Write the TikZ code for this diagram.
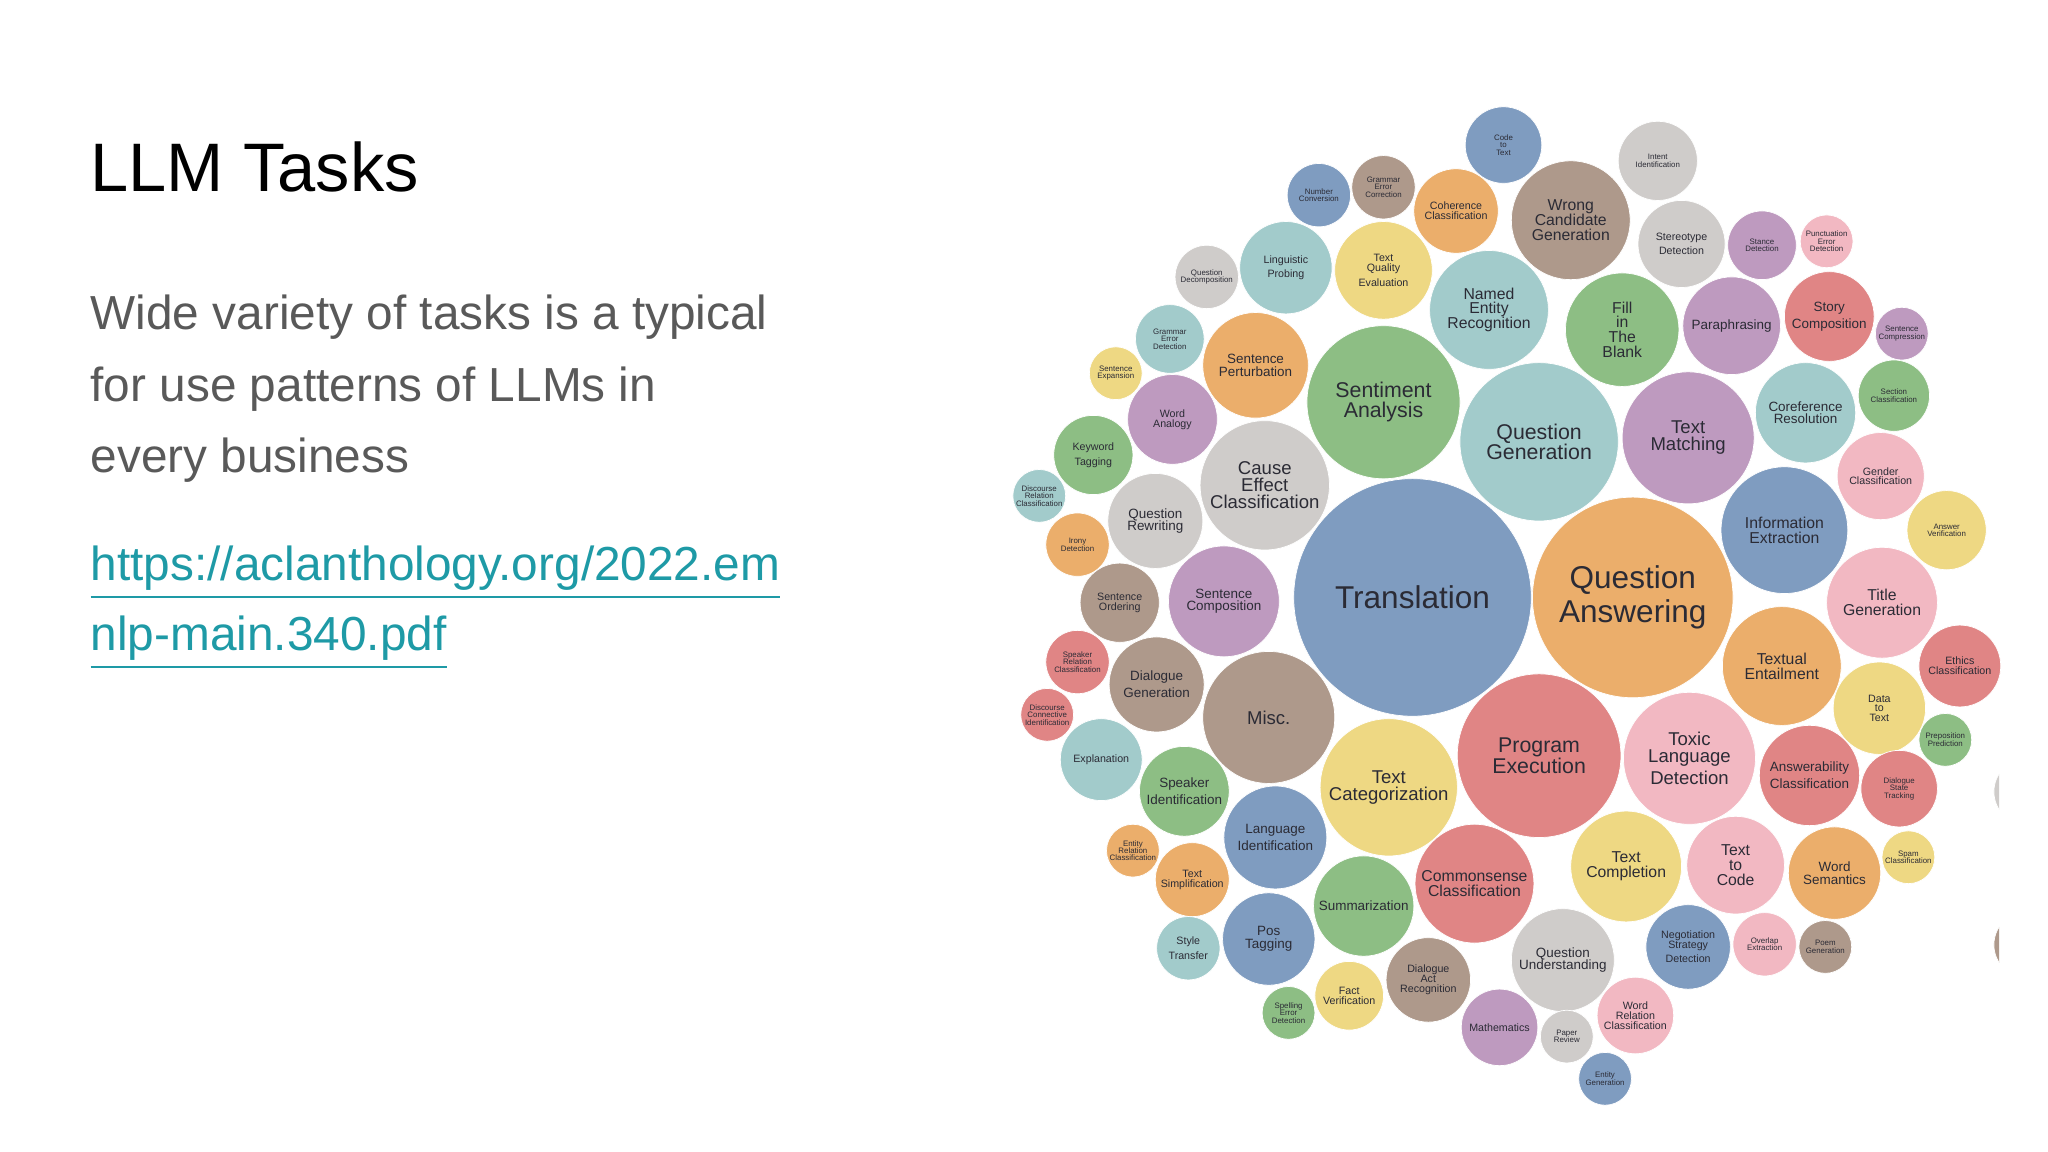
\documentclass[tikz,border=0pt]{standalone}
\usepackage{fontspec}
\setmainfont{Liberation Sans}
\definecolor{cb}{HTML}{7F9CC0}
\definecolor{co}{HTML}{EBAE6B}
\definecolor{cg}{HTML}{8DBE84}
\definecolor{ct}{HTML}{A2CBCB}
\definecolor{cr}{HTML}{E08585}
\definecolor{cp}{HTML}{F2B8C2}
\definecolor{cu}{HTML}{BE9ABF}
\definecolor{cn}{HTML}{AE998B}
\definecolor{cy}{HTML}{EED883}
\definecolor{cz}{HTML}{CFCCCA}
\definecolor{txt}{HTML}{2B2B35}
\definecolor{body}{HTML}{595959}
\definecolor{lnk}{HTML}{1E9AA6}
\newcommand\FzA{\fontsize{6.8}{6.2}\selectfont}
\newcommand\FzB{\fontsize{5.9}{5.6}\selectfont}
\newcommand\FzC{\fontsize{4.6}{4.4}\selectfont}
\newcommand\FzD{\fontsize{4.0}{3.7}\selectfont}
\newcommand\FzE{\fontsize{3.4}{3.2}\selectfont}
\newcommand\FzF{\fontsize{2.9}{2.7}\selectfont}
\newcommand\FzG{\fontsize{2.3}{2.1}\selectfont}
\newcommand\FzH{\fontsize{1.7}{1.6}\selectfont}
\newcommand\bub[7]{\node[bub,fill=#5,minimum size=0.02cm*#4,font=#6] (#1) at (0.01*#2,-0.01*#3) {#7};}
\tikzset{bub/.style={circle,draw=white,line width=0.15pt,inner sep=0pt,align=center,text=txt}}
\begin{document}
\begin{tikzpicture}
\useasboundingbox[fill=white] (0,0) rectangle (15.52,-8.73);
\node[anchor=base west,inner sep=0,font=\fontsize{14.8}{16}\selectfont] (title) at (0.68,-1.45) {LLM Tasks};
\node[anchor=base west,inner sep=0,text=body,font=\fontsize{10.3}{12}\selectfont] (l1) at (0.68,-2.50) {Wide variety of tasks is a typical};
\node[anchor=base west,inner sep=0,text=body,font=\fontsize{10.3}{12}\selectfont] (l2) at (0.68,-3.04) {for use patterns of LLMs in};
\node[anchor=base west,inner sep=0,text=body,font=\fontsize{10.3}{12}\selectfont] (l3) at (0.68,-3.58) {every business};
\node[anchor=base west,inner sep=0,text=lnk,font=\fontsize{10.3}{12}\selectfont] (k1) at (0.68,-4.40) {\underline{https://aclanthology.org/2022.em}};
\node[anchor=base west,inner sep=0,text=lnk,font=\fontsize{10.3}{12}\selectfont] (k2) at (0.68,-4.93) {\underline{nlp-main.340.pdf}};
\bub{tr}{1071}{453}{90}{cb}{\FzA}{Translation}
\bub{qa}{1238}{453}{76}{co}{\FzA}{Question\\Answering}
\bub{sa}{1049}{305}{58}{cg}{\FzC}{Sentiment\\Analysis}
\bub{qg}{1167}{335}{60}{ct}{\FzC}{Question\\Generation}
\bub{tm}{1280}{332}{50}{cu}{\FzD}{Text\\Matching}
\bub{pe}{1167}{573}{62}{cr}{\FzC}{Program\\Execution}
\bub{tl}{1281}{575}{50}{cp}{\FzD}{Toxic\\Language\\Detection}
\bub{tc}{1053}{597}{52}{cy}{\FzD}{Text\\Categorization}
\bub{mi}{962}{544}{50}{cn}{\FzD}{Misc.}
\bub{ce}{959}{368}{49}{cz}{\FzD}{Cause\\Effect\\Classification}
\bub{cc}{1118}{670}{45}{cr}{\FzE}{Commonsense\\Classification}
\bub{ie}{1353}{402}{48}{cb}{\FzE}{Information\\Extraction}
\bub{te}{1351}{505}{45}{co}{\FzE}{Textual\\Entailment}
\bub{wc}{1191}{167}{45}{cn}{\FzE}{Wrong\\Candidate\\Generation}
\bub{ne}{1129}{235}{45}{ct}{\FzE}{Named\\Entity\\Recognition}
\bub{fb}{1230}{250}{43}{cg}{\FzE}{Fill\\in\\The\\Blank}
\bub{pa}{1313}{247}{37}{cu}{\FzF}{Paraphrasing}
\bub{sc}{1387}{240}{34}{cr}{\FzF}{Story\\Composition}
\bub{cr}{1369}{313}{38}{ct}{\FzF}{Coreference\\Resolution}
\bub{tg}{1427}{457}{42}{cp}{\FzE}{Title\\Generation}
\bub{ac}{1372}{588}{38}{cr}{\FzF}{Answerability\\Classification}
\bub{tx}{1233}{657}{42}{cy}{\FzE}{Text\\Completion}
\bub{ttc}{1316}{656}{37}{cp}{\FzE}{Text\\to\\Code}
\bub{ws}{1391}{662}{35}{co}{\FzF}{Word\\Semantics}
\bub{qu}{1185}{728}{39}{cz}{\FzF}{Question\\Understanding}
\bub{ns}{1280}{718}{32}{cb}{\FzG}{Negotiation\\Strategy\\Detection}
\bub{wr}{1240}{770}{29}{cp}{\FzG}{Word\\Relation\\Classification}
\bub{ma}{1137}{779}{29}{cu}{\FzG}{Mathematics}
\bub{pr}{1188}{786}{20}{cz}{\FzH}{Paper\\Review}
\bub{eg}{1217}{818}{20}{cb}{\FzH}{Entity\\Generation}
\bub{da}{1083}{743}{32}{cn}{\FzG}{Dialogue\\Act\\Recognition}
\bub{su}{1034}{687}{38}{cg}{\FzF}{Summarization}
\bub{fv}{1023}{755}{26}{cy}{\FzG}{Fact\\Verification}
\bub{sp}{977}{768}{20}{cg}{\FzH}{Spelling\\Error\\Detection}
\bub{pt}{962}{712}{35}{cb}{\FzF}{Pos\\Tagging}
\bub{li}{967}{635}{39}{cb}{\FzF}{Language\\Identification}
\bub{si}{898}{600}{34}{cg}{\FzF}{Speaker\\Identification}
\bub{ts}{904}{667}{28}{co}{\FzG}{Text\\Simplification}
\bub{st}{901}{719}{24}{ct}{\FzG}{Style\\Transfer}
\bub{er}{859}{645}{20}{co}{\FzH}{Entity\\Relation\\Classification}
\bub{ex}{835}{576}{31}{ct}{\FzG}{Explanation}
\bub{dg}{877}{519}{36}{cn}{\FzF}{Dialogue\\Generation}
\bub{dc}{794}{542}{20}{cr}{\FzH}{Discourse\\Connective\\Identification}
\bub{sr}{817}{502}{24}{cr}{\FzH}{Speaker\\Relation\\Classification}
\bub{so}{849}{457}{30}{cn}{\FzG}{Sentence\\Ordering}
\bub{sco}{928}{456}{42}{cu}{\FzF}{Sentence\\Composition}
\bub{ir}{817}{413}{24}{co}{\FzH}{Irony\\Detection}
\bub{qr}{876}{395}{36}{cz}{\FzF}{Question\\Rewriting}
\bub{dr}{788}{376}{20}{ct}{\FzH}{Discourse\\Relation\\Classification}
\bub{kt}{829}{345}{30}{cg}{\FzG}{Keyword\\Tagging}
\bub{wa}{889}{318}{34}{cu}{\FzG}{Word\\Analogy}
\bub{se}{846}{283}{20}{cy}{\FzH}{Sentence\\Expansion}
\bub{ged}{887}{257}{26}{ct}{\FzH}{Grammar\\Error\\Detection}
\bub{sp2}{952}{277}{40}{co}{\FzF}{Sentence\\Perturbation}
\bub{qd}{915}{210}{24}{cz}{\FzH}{Question\\Decomposition}
\bub{lp}{975}{203}{35}{ct}{\FzG}{Linguistic\\Probing}
\bub{nc}{1000}{148}{24}{cb}{\FzH}{Number\\Conversion}
\bub{gec}{1049}{142}{24}{cn}{\FzH}{Grammar\\Error\\Correction}
\bub{tq}{1049}{205}{37}{cy}{\FzG}{Text\\Quality\\Evaluation}
\bub{coh}{1104}{160}{32}{co}{\FzG}{Coherence\\Classification}
\bub{ct2}{1140}{110}{29}{cb}{\FzH}{Code\\to\\Text}
\bub{ii}{1257}{122}{30}{cz}{\FzH}{Intent\\Identification}
\bub{sd}{1275}{185}{33}{cz}{\FzG}{Stereotype\\Detection}
\bub{sta}{1336}{186}{26}{cu}{\FzH}{Stance\\Detection}
\bub{pu}{1385}{183}{20}{cp}{\FzH}{Punctuation\\Error\\Detection}
\bub{scm}{1442}{253}{20}{cu}{\FzH}{Sentence\\Compression}
\bub{sec}{1436}{300}{27}{cg}{\FzH}{Section\\Classification}
\bub{gc}{1426}{361}{33}{cp}{\FzG}{Gender\\Classification}
\bub{av}{1476}{402}{30}{cy}{\FzH}{Answer\\Verification}
\bub{ec}{1486}{505}{31}{cr}{\FzG}{Ethics\\Classification}
\bub{dt}{1425}{537}{35}{cy}{\FzG}{Data\\to\\Text}
\bub{pp}{1475}{561}{20}{cg}{\FzH}{Preposition\\Prediction}
\bub{ds}{1440}{598}{29}{cr}{\FzH}{Dialogue\\State\\Tracking}
\bub{sm}{1447}{650}{20}{cy}{\FzH}{Spam\\Classification}
\bub{ov}{1338}{716}{24}{cp}{\FzH}{Overlap\\Extraction}
\bub{pg}{1384}{718}{20}{cn}{\FzH}{Poem\\Generation}
\begin{scope}
\clip (15.0,-5) rectangle (15.15,-8);
\node[bub,fill=cz,minimum size=0.5cm] (x1) at (15.36,-6.00) {};
\node[bub,fill=cn,minimum size=0.5cm] (x2) at (15.36,-7.16) {};
\end{scope}
\end{tikzpicture}
\end{document}
